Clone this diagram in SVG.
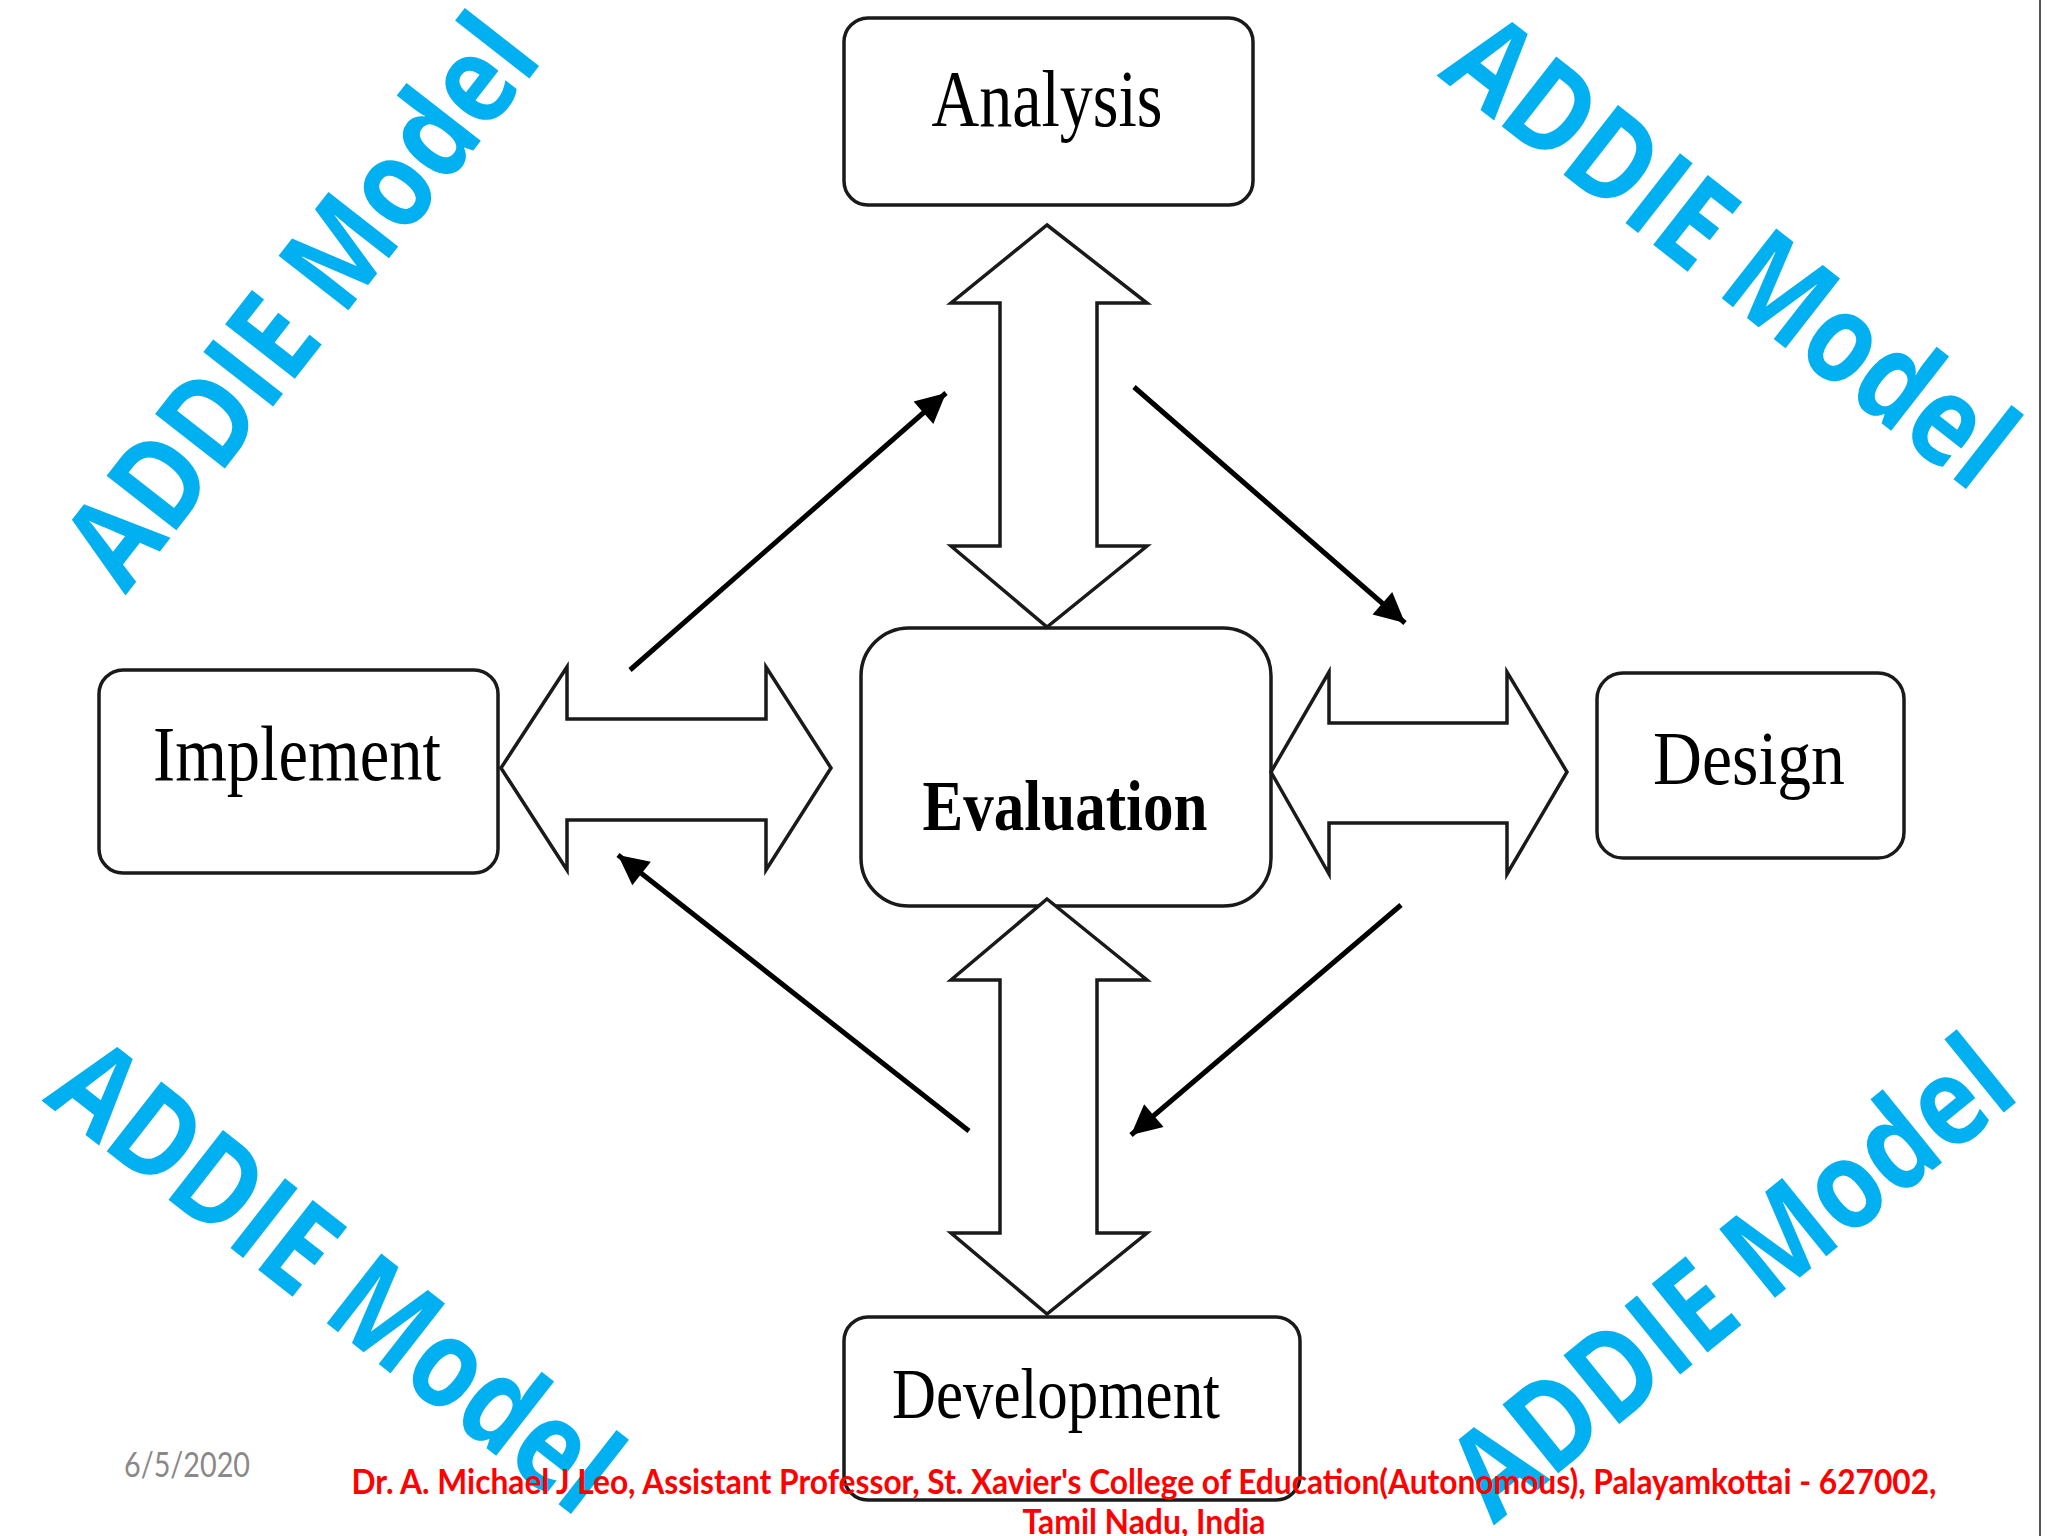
<svg xmlns="http://www.w3.org/2000/svg" width="2048" height="1536" viewBox="0 0 2048 1536">
<style>
.box{fill:#fff;stroke:#1a1a1a;stroke-width:3.5}
.lbl{font-family:"Liberation Serif","Times New Roman",serif;fill:#000;text-anchor:middle}
.blk{fill:#fff;stroke:#1a1a1a;stroke-width:3.5;stroke-linejoin:miter}
.conn{stroke:#000;stroke-width:5;fill:none}
.wm{font-family:"Open Sans","Lato",sans-serif;font-weight:bold;font-size:124px;fill:#00B0F0;text-anchor:middle}
.foot{font-family:"Lato","Open Sans",sans-serif;font-weight:bold;font-size:34px;fill:#FF0000;text-anchor:middle}
</style>
<defs>
<marker id="ah" viewBox="0 0 10 10" refX="10" refY="5" markerWidth="38" markerHeight="30" markerUnits="userSpaceOnUse" orient="auto">
<path d="M0,0 L10,5 L0,10 z" fill="#000"/>
</marker>
</defs>
<rect x="0" y="0" width="2048" height="1536" fill="#fff"/>
<line x1="2040" y1="0" x2="2040" y2="1536" stroke="#555" stroke-width="2"/>

<g id="node-analysis">
<rect class="box" x="844" y="18" width="409" height="187" rx="24"/>
<text class="lbl" x="1047" y="126" font-size="80" textLength="231" lengthAdjust="spacingAndGlyphs">Analysis</text>
</g>
<g id="node-implement">
<rect class="box" x="99" y="670" width="399" height="203" rx="24"/>
<text class="lbl" x="297" y="780" font-size="78" textLength="288" lengthAdjust="spacingAndGlyphs">Implement</text>
</g>
<g id="node-evaluation">
<rect class="box" x="861" y="628" width="410" height="278" rx="48"/>
<text class="lbl" x="1065" y="830" font-size="72" font-weight="bold" textLength="285" lengthAdjust="spacingAndGlyphs">Evaluation</text>
</g>
<g id="node-design">
<rect class="box" x="1597" y="673" width="307" height="185" rx="26"/>
<text class="lbl" x="1749" y="784" font-size="77" textLength="192" lengthAdjust="spacingAndGlyphs">Design</text>
</g>
<g id="node-development">
<rect class="box" x="844" y="1317" width="456" height="183" rx="24"/>
<text class="lbl" x="1056" y="1418" font-size="72" textLength="328" lengthAdjust="spacingAndGlyphs">Development</text>
</g>

<g id="connectors">
<polygon class="blk" points="1047,225 1147,303 1097,303 1097,546 1147,546 1047,627 951,546 1000,546 1000,303 951,303"/>
<polygon class="blk" points="1047,899 1147,980 1097,980 1097,1233 1147,1233 1047,1314 951,1233 1000,1233 1000,980 951,980"/>
<polygon class="blk" points="501,768 567,667 567,719 766,719 766,667 831,768 766,870 766,820 567,820 567,870"/>
<polygon class="blk" points="1271,772 1329,672 1329,723 1507,723 1507,672 1567,772 1507,874 1507,823 1329,823 1329,874"/>
<line class="conn" x1="630" y1="670" x2="946" y2="393" marker-end="url(#ah)"/>
<line class="conn" x1="1134" y1="387" x2="1405" y2="623" marker-end="url(#ah)"/>
<line class="conn" x1="1401" y1="905" x2="1131" y2="1135" marker-end="url(#ah)"/>
<line class="conn" x1="969" y1="1131" x2="618" y2="855" marker-end="url(#ah)"/>
</g>

<g id="watermarks">
<text class="wm" transform="translate(301,301) rotate(-52)" x="0" y="43" textLength="680" lengthAdjust="spacingAndGlyphs">ADDIE Model</text>
<text class="wm" transform="translate(1731,251) rotate(38)" x="0" y="43" textLength="680" lengthAdjust="spacingAndGlyphs">ADDIE Model</text>
<text class="wm" transform="translate(336,1276) rotate(38)" x="0" y="43" textLength="680" lengthAdjust="spacingAndGlyphs">ADDIE Model</text>
<text class="wm" transform="translate(1731,1278) rotate(-39)" x="0" y="43" textLength="680" lengthAdjust="spacingAndGlyphs">ADDIE Model</text>
</g>

<g id="footer">
<text x="187" y="1477" font-family="Lato,'Open Sans',sans-serif" font-size="35" fill="#898989" text-anchor="middle" textLength="126" lengthAdjust="spacingAndGlyphs">6/5/2020</text>
<text class="foot" x="1144" y="1494" textLength="1585" lengthAdjust="spacingAndGlyphs">Dr. A. Michael J Leo, Assistant Professor, St. Xavier's College of Education(Autonomous), Palayamkottai - 627002,</text>
<text class="foot" x="1144" y="1534" textLength="243" lengthAdjust="spacingAndGlyphs">Tamil Nadu, India</text>
</g>
</svg>
